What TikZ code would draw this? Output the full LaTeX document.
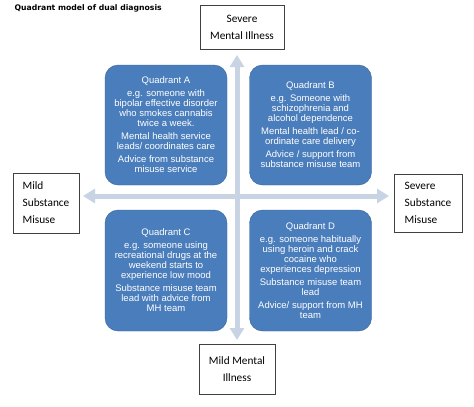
\documentclass[tikz,border=0pt]{standalone}
\usepackage{fontspec}
\setmainfont{Liberation Sans}
\newfontfamily\labelfont{Carlito}
\newfontfamily\titlefont{DejaVu Sans}
\usetikzlibrary{arrows.meta}
\definecolor{quadblue}{RGB}{74,125,187}
\definecolor{quadedge}{RGB}{58,98,152}
\definecolor{axisgrey}{RGB}{200,211,228}
\begin{document}
\begin{tikzpicture}[x=1pt,y=-1pt,
    quad/.style={draw=quadedge, fill=quadblue, rounded corners=13pt, text=white, align=center,
      minimum width=122pt, minimum height=120pt, inner sep=0pt, font=\fontsize{9.5}{10}\selectfont},
    labelbox/.style={draw=black!75, fill=white, line width=0.9pt, inner sep=0pt,
      font=\labelfont\fontsize{11.3}{17}\selectfont},
    axis/.style={axisgrey, line width=5pt, {Triangle[width=14pt,length=12pt]}-{Triangle[width=14pt,length=12pt]}}]
    \useasboundingbox (0,0) rectangle (474,407);
    \node[anchor=west, font=\titlefont\bfseries\fontsize{7.7}{8}\selectfont] (title) at (11,8) {Quadrant model of dual diagnosis};
    \node[labelbox, align=center, minimum width=84pt, minimum height=44pt] (severemi) at (242,27) {Severe\\Mental Illness};
    \node[labelbox, align=center, minimum width=76pt, minimum height=50pt] (mildmi) at (237,369) {Mild Mental\\Illness};
    \node[labelbox, align=left, minimum width=66pt, minimum height=60pt] (mildsm) at (46,203) {Mild\\Substance\\Misuse};
    \node[labelbox, align=left, minimum width=68pt, minimum height=58pt] (severesm) at (428,203) {Severe\\Substance\\Misuse};
    \coordinate (north) at (237,55);
    \coordinate (south) at (237,340);
    \coordinate (west) at (83,196);
    \coordinate (east) at (389,196);
    \draw[axis] (north) -- (south);
    \draw[axis] (west) -- (east);
    \node[quad] (quadA) at (166,125) {Quadrant A\\[3pt]
      e.g. someone with\\ bipolar effective disorder\\ who smokes cannabis\\ twice a week.\\[3pt]
      Mental health service\\ leads/ coordinates care\\[3pt]
      Advice from substance\\ misuse service};
    \node[quad] (quadB) at (310.5,125) {Quadrant B\\[3pt]
      e.g. Someone with\\ schizophrenia and\\ alcohol dependence\\[3pt]
      Mental health lead / co-\\ ordinate care delivery\\[3pt]
      Advice / support from\\ substance misuse team};
    \node[quad, minimum height=121pt] (quadC) at (166,270.5) {Quadrant C\\[3pt]
      e.g. someone using\\ recreational drugs at the\\ weekend starts to\\ experience low mood\\[3pt]
      Substance misuse team\\ lead with advice from\\ MH team};
    \node[quad, minimum height=121pt] (quadD) at (310.5,270.5) {Quadrant D\\[3pt]
      e.g. someone habitually\\ using heroin and crack\\ cocaine who\\ experiences depression\\[3pt]
      Substance misuse team\\ lead\\[3pt]
      Advice/ support from MH\\ team};
  \end{tikzpicture}
\end{document}
